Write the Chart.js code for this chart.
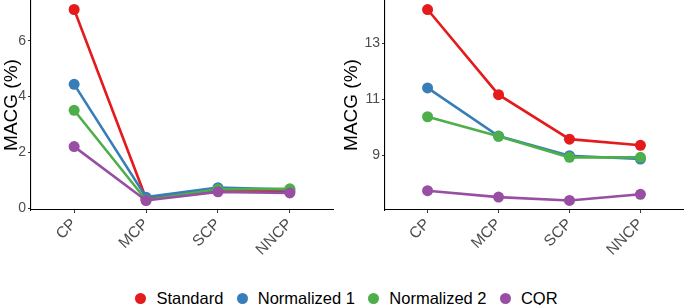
<!DOCTYPE html>
<html>
<head>
<meta charset="utf-8">
<script src="https://cdn.jsdelivr.net/npm/chart.js@4/dist/chart.umd.min.js"></script>
<style>
  body { margin: 0; background: #fff; }
  #wrap { position: relative; width: 685px; height: 305px; font-family: "Liberation Sans", Arial, sans-serif; }
  #boxLeft { position: absolute; left: 0; top: 0; width: 340px; height: 270px; }
  #boxRight { position: absolute; left: 340px; top: 0; width: 345px; height: 270px; }
  #legenda { position: absolute; left: 4px; top: 287px; width: 685px; height: 22px; display: flex; justify-content: center; align-items: center; font-size: 16.5px; color: #000; }
  .item { display: flex; align-items: center; margin: 0 6.7px; }
  .dot { width: 11px; height: 11px; border-radius: 50%; margin-right: 10px; }
</style>
</head>
<body>
<div id="wrap">
  <div id="boxLeft"><canvas id="graficoEsquerda"></canvas></div>
  <div id="boxRight"><canvas id="graficoDireita"></canvas></div>
  <div id="legenda"></div>
</div>
<script>
const categorias = ['CP', 'MCP', 'SCP', 'NNCP']
const series = ['Standard', 'Normalized 1', 'Normalized 2', 'CQR']
const cores = ['#E41A1C', '#377EB8', '#4DAF4A', '#984EA3']

// painel esquerdo
const esqStandard = [7.12, 0.35, 0.65, 0.60]
const esqNorm1 = [4.44, 0.40, 0.74, 0.67]
const esqNorm2 = [3.51, 0.30, 0.68, 0.70]
const esqCqr = [2.21, 0.28, 0.59, 0.55]
const esqTicks = [0, 2, 4, 6]

// painel direito
const dirStandard = [14.20, 11.16, 9.57, 9.35]
const dirNorm1 = [11.40, 9.68, 8.98, 8.86]
const dirNorm2 = [10.37, 9.67, 8.92, 8.92]
const dirCqr = [7.73, 7.50, 7.38, 7.60]
const dirTicks = [9, 11, 13]

const fonte = '"Liberation Sans", Arial, sans-serif'

function montarDatasets(valores) {
    let datasets = []
    for (let i = 0; i < valores.length; i++) {
        datasets.push({
            label: series[i],
            data: valores[i].map((v, j) => ({ x: j + 1, y: v })),
            borderColor: cores[i],
            backgroundColor: cores[i],
            borderWidth: 2.6,
            pointRadius: 5.5,
            pointHoverRadius: 5.5,
            pointBorderWidth: 0,
            order: valores.length - i,
            clip: false
        })
    }
    return datasets
}

function criarPainel(id, valores, ticksY, minY, maxY, larguraY, padDireita) {
    return new Chart(document.getElementById(id), {
        type: 'line',
        data: { datasets: montarDatasets(valores) },
        options: {
            responsive: true,
            maintainAspectRatio: false,
            animation: false,
            layout: { autoPadding: false, padding: { left: 0, right: padDireita, top: 0, bottom: 0 } },
            plugins: { legend: { display: false }, tooltip: { enabled: false } },
            scales: {
                x: {
                    type: 'linear',
                    min: 0.4,
                    max: 4.6,
                    afterBuildTicks: s => { s.ticks = categorias.map((c, i) => ({ value: i + 1 })) },
                    afterFit: s => { s.height = 60; s.paddingLeft = 0; s.paddingRight = 0 },
                    ticks: {
                        autoSkip: false,
                        minRotation: 45,
                        maxRotation: 45,
                        padding: 2,
                        color: '#4D4D4D',
                        font: { family: fonte, size: 15.5 },
                        callback: v => categorias[v - 1]
                    },
                    grid: { drawOnChartArea: false, drawTicks: true, tickLength: 3, color: '#333333', lineWidth: 1 },
                    border: { display: true, color: '#000000', width: 1.1 }
                },
                y: {
                    type: 'linear',
                    min: minY,
                    max: maxY,
                    afterBuildTicks: s => { s.ticks = ticksY.map(v => ({ value: v })) },
                    afterFit: s => { s.width = larguraY; s.paddingTop = 0; s.paddingBottom = 0 },
                    ticks: {
                        padding: 2,
                        color: '#4D4D4D',
                        font: { family: fonte, size: 14 }
                    },
                    grid: { drawOnChartArea: false, drawTicks: true, tickLength: 3, color: '#333333', lineWidth: 1 },
                    border: { display: true, color: '#000000', width: 1.1 },
                    title: {
                        display: true,
                        text: 'MACG (%)',
                        color: '#000000',
                        padding: 0,
                        font: { family: fonte, size: 19 }
                    }
                }
            }
        }
    })
}

criarPainel('graficoEsquerda', [esqStandard, esqNorm1, esqNorm2, esqCqr], esqTicks, -0.06, 7.46, 31, 7)
criarPainel('graficoDireita', [dirStandard, dirNorm1, dirNorm2, dirCqr], dirTicks, 7.04, 14.54, 45, 2)

const legenda = document.getElementById('legenda')
series.forEach((s, i) => {
    const item = document.createElement('div')
    item.className = 'item'
    item.innerHTML = `<span class="dot" style="background:${cores[i]}"></span><span>${s}</span>`
    legenda.appendChild(item)
})
</script>
</body>
</html>
